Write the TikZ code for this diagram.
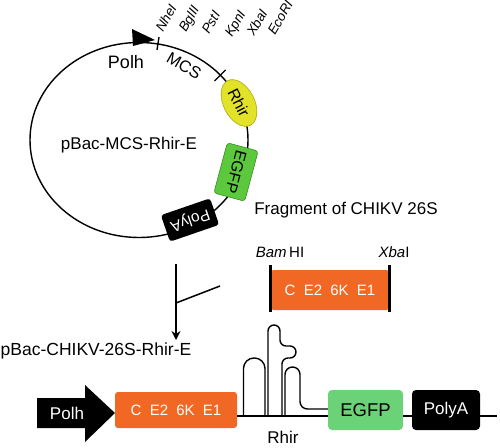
\documentclass[tikz,border=0pt]{standalone}
\usepackage{fontspec}
\setmainfont{Liberation Sans}
\usetikzlibrary{shapes.geometric,arrows.meta}
\definecolor{orng}{RGB}{240,104,36}
\definecolor{yel}{RGB}{226,226,40}
\definecolor{yeld}{RGB}{170,170,20}
\definecolor{grn}{RGB}{92,200,62}
\definecolor{grnd}{RGB}{55,140,40}
\definecolor{lgrn}{RGB}{108,210,120}
\newcommand{\fs}[1]{\fontsize{#1}{#1}\selectfont}
\tikzset{
  lbl/.style={inner sep=0pt, font=\fs{17}},
  site/.style={inner sep=0pt, font=\fs{13.5}\itshape, rotate=60, anchor=base west},
  plbox/.style={rectangle, rounded corners=3pt, inner sep=0pt},
  wire/.style={line width=1.4pt},
  conn/.style={line width=1.5pt}
}
\begin{document}
\begin{tikzpicture}[x=1pt,y=-1pt]
\useasboundingbox (0,0) rectangle (500,447);

% plasmid
\draw[wire] (139,140) ellipse [x radius=109pt, y radius=97.5pt];
\fill (132,29) -- (133,46) -- (155,40) -- cycle;
\draw[wire] (157,50) -- (159,37);
\draw[wire] (214.5,81) -- (225.5,70);

\node[lbl, font=\fs{18}] (polhtop) at (126,62) {Polh};
\node[lbl, font=\fs{16.5}, rotate=-30] (mcs) at (184,66) {MCS};
\node[lbl] (pname) at (129,145) {pBac-MCS-Rhir-E};

\node[site] (s1) at (163,33) {NheI};
\node[site] (s2) at (186,33) {BglII};
\node[site] (s3) at (209,35) {PstI};
\node[site] (s4) at (232,38) {KpnI};
\node[site] (s5) at (254,37) {XbaI};
\node[site] (s6) at (275,36) {EcoRI};

\node[ellipse, fill=yel, draw=yeld, line width=0.6pt, rotate=-63,
      minimum width=50pt, minimum height=31pt, inner sep=0pt, font=\fs{16}] (rhir) at (239,103) {Rhir};
\node[plbox, fill=grn, draw=grnd, line width=0.6pt, rotate=-105,
      minimum width=52pt, minimum height=32pt, font=\fs{16}] (egfp1) at (236,172) {EGFP};
\node[plbox, fill=black, text=white, rotate=199,
      minimum width=52pt, minimum height=28pt, font=\fs{15.5}] (polya1) at (190,220) {PolyA};

% fragment
\node[lbl] (fragt) at (346,210) {Fragment of CHIKV 26S};
\node[lbl, font=\fs{15}] (bam) at (280,252) {\textit{Bam}\,HI};
\node[lbl, font=\fs{15}] (xba) at (394,252) {\textit{Xba}I};
\node[rectangle, rounded corners=2pt, fill=orng, text=white, inner sep=0pt,
      minimum width=117pt, minimum height=40pt, font=\fs{15}] (frag) at (330,290)
      {C\hspace{0.55em}E2\hspace{0.55em}6K\hspace{0.55em}E1};
\draw[line width=3pt] (270,265) -- (270,312);
\draw[line width=3pt] (389,265) -- (389,312);

% arrow
\coordinate (vtop) at (176,264);
\coordinate (vtip) at (176,340);
\coordinate (vj) at (176,303);
\coordinate (send) at (220,286);
\draw[conn, -{Stealth[length=9pt,width=9pt,inset=3pt]}] (vtop) -- (vtip);
\draw[conn] (vj) -- (send);

% construct
\node[lbl, font=\fs{17.5}] (cname) at (96,351) {pBac-CHIKV-26S-Rhir-E};
\fill (37,398) -- (85,398) -- (85,385) -- (115,413) -- (85,442) -- (85,428) -- (37,428) -- cycle;
\node[lbl, text=white] (polh) at (67,413) {Polh};
\node[rectangle, rounded corners=3pt, fill=orng, text=white, inner sep=0pt,
      minimum width=122pt, minimum height=36pt, font=\fs{15}] (orb) at (176,410)
      {C\hspace{0.55em}E2\hspace{0.55em}6K\hspace{0.55em}E1};
\node[rectangle, rounded corners=4pt, fill=lgrn, inner sep=0pt,
      minimum width=75pt, minimum height=40pt, font=\fs{18.5}] (eg) at (365.5,410) {EGFP};
\node[rectangle, rounded corners=4pt, fill=black, text=white, inner sep=0pt,
      minimum width=68pt, minimum height=40pt, font=\fs{17}] (pa) at (446,410) {PolyA};
\coordinate (bl) at (0,416);
\coordinate (lineend) at (497,416);
\draw[wire] (orb.east |- bl) -- (eg.west |- bl);
\draw[wire] (eg.east |- bl) -- (pa.west |- bl);
\draw[wire] (pa.east |- bl) -- (lineend);
% Rhir hairpins
\draw[wire, rounded corners=10.5pt] (243.5,416) -- (243.5,358) -- (265,358) -- (265,416);
\draw[wire, rounded corners=6pt] (268,416) -- (268,325) -- (280,325) -- (280,346) -- (296,346) -- (296,358) -- (282,358) -- (282,416);
\draw[wire, rounded corners=7.5pt] (285,416) -- (285,367) -- (300,367) -- (300,409) -- (eg.west |- 0,409);
\node[lbl] (rhirlbl) at (283,437) {Rhir};
\end{tikzpicture}
\end{document}
